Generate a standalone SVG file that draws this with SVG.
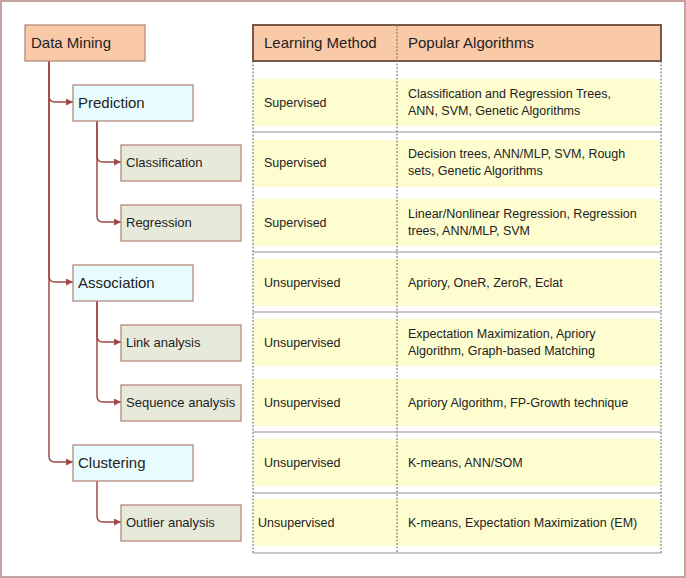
<svg xmlns="http://www.w3.org/2000/svg" width="686" height="578" viewBox="0 0 686 578">
<style>
text{font-family:"Liberation Sans",Arial,sans-serif;fill:#222}
.n rect{stroke:#b58a7c;stroke-width:1.3}
.l0 rect{fill:#f9c9a8}.l1 rect{fill:#e8fcfe}.l2 rect{fill:#e7eadb}
.l0 text,.l1 text{font-size:15px}.l2 text{font-size:13px}
.c path{fill:none;stroke:#9e4a48;stroke-width:1.5;marker-end:url(#a)}
.cell{font-size:12.5px}
.band{fill:#fdfdd0}
.sep{stroke:#9a8a90;stroke-width:1.2}
.dot{stroke:#666;stroke-width:1;stroke-dasharray:2,1.5}
</style>
<defs><marker id="a" viewBox="0 0 10 10" refX="10" refY="5" markerWidth="7" markerHeight="7" orient="auto" markerUnits="userSpaceOnUse"><path d="M0,0L10,5L0,10z" fill="#9e4a48"/></marker></defs>
<rect x="1" y="1" width="684" height="576" fill="#fff" stroke="#c7a2a2" stroke-width="2"/>
<g id="table">
<rect x="253" y="62" width="408" height="491" fill="#fff"/>
<g class="band">
<rect x="254" y="79" width="406" height="47"/><rect x="254" y="140" width="406" height="47"/>
<rect x="254" y="199" width="406" height="47"/><rect x="254" y="259" width="406" height="47"/>
<rect x="254" y="319" width="406" height="47"/><rect x="254" y="379" width="406" height="47"/>
<rect x="254" y="439" width="406" height="47"/><rect x="254" y="499" width="406" height="47"/>
</g>
<rect x="253" y="25" width="408" height="36" fill="#f9c9a8" stroke="#6a4a3a" stroke-width="1.8"/>
<line class="dot" x1="397" y1="25" x2="397" y2="553"/>
<line class="dot" x1="253" y1="61" x2="253" y2="553"/>
<line class="dot" x1="661" y1="61" x2="661" y2="553"/>
<g class="sep"><line x1="253" y1="132" x2="661" y2="132"/><line x1="253" y1="252" x2="661" y2="252"/><line x1="253" y1="312" x2="661" y2="312"/><line x1="253" y1="432" x2="661" y2="432"/><line x1="253" y1="493" x2="661" y2="493"/><line x1="253" y1="553" x2="661" y2="553"/></g>
<text x="264" y="48" font-size="15">Learning Method</text><text x="408" y="48" font-size="15">Popular Algorithms</text>
<g class="cell">
<text x="264" y="107" class="cell">Supervised</text><text x="408" y="98" class="cell">Classification and Regression Trees,</text><text x="408" y="115" class="cell">ANN, SVM, Genetic Algorithms</text>
<text x="264" y="167" class="cell">Supervised</text><text x="408" y="158" class="cell">Decision trees, ANN/MLP, SVM, Rough</text><text x="408" y="175" class="cell">sets, Genetic Algorithms</text>
<text x="264" y="227" class="cell">Supervised</text><text x="408" y="218" class="cell">Linear/Nonlinear Regression, Regression</text><text x="408" y="235" class="cell">trees, ANN/MLP, SVM</text>
<text x="264" y="287" class="cell">Unsupervised</text><text x="408" y="287" class="cell">Apriory, OneR, ZeroR, Eclat</text>
<text x="264" y="347" class="cell">Unsupervised</text><text x="408" y="338" class="cell">Expectation Maximization, Apriory</text><text x="408" y="355" class="cell">Algorithm, Graph-based Matching</text>
<text x="264" y="407" class="cell">Unsupervised</text><text x="408" y="407" class="cell">Apriory Algorithm, FP-Growth technique</text>
<text x="264" y="467" class="cell">Unsupervised</text><text x="408" y="467" class="cell">K-means, ANN/SOM</text>
<text x="258" y="527" class="cell">Unsupervised</text><text x="408" y="527" class="cell">K-means, Expectation Maximization (EM)</text>
</g>
</g>
<g class="c" id="connectors">
<path d="M49,61V96Q49,102 55,102H73"/>
<path d="M49,61V276Q49,282 55,282H73"/>
<path d="M49,61V456Q49,462 55,462H73"/>
<path d="M97,121V156Q97,162 103,162H121"/>
<path d="M97,121V216Q97,222 103,222H121"/>
<path d="M97,301V336Q97,342 103,342H121"/>
<path d="M97,301V396Q97,402 103,402H121"/>
<path d="M97,481V516Q97,522 103,522H121"/>
</g>
<g id="dm" class="n l0"><rect x="25" y="25" width="120" height="36"/><text x="31" y="48">Data Mining</text></g>
<g id="prediction" class="n l1"><rect x="73" y="85" width="120" height="36"/><text x="78" y="108">Prediction</text></g>
<g id="classification" class="n l2"><rect x="121" y="145" width="120" height="36"/><text x="126" y="167">Classification</text></g>
<g id="regression" class="n l2"><rect x="121" y="205" width="120" height="36"/><text x="126" y="227">Regression</text></g>
<g id="association" class="n l1"><rect x="73" y="265" width="120" height="36"/><text x="78" y="288">Association</text></g>
<g id="link" class="n l2"><rect x="121" y="325" width="120" height="36"/><text x="126" y="347">Link analysis</text></g>
<g id="sequence" class="n l2"><rect x="121" y="385" width="120" height="36"/><text x="126" y="407">Sequence analysis</text></g>
<g id="clustering" class="n l1"><rect x="73" y="445" width="120" height="36"/><text x="78" y="468">Clustering</text></g>
<g id="outlier" class="n l2"><rect x="121" y="505" width="120" height="36"/><text x="126" y="527">Outlier analysis</text></g>
</svg>
